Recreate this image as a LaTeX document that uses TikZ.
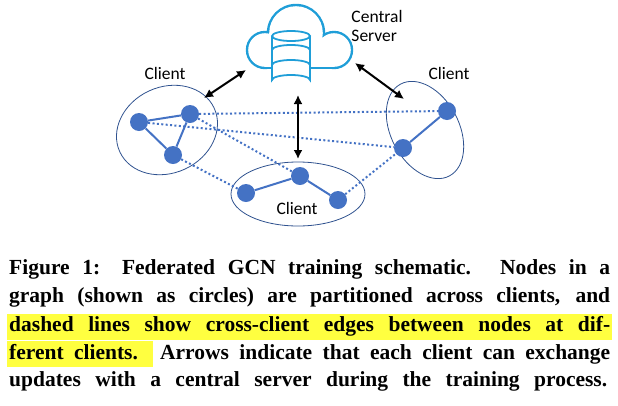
\documentclass[tikz,border=0pt]{standalone}
\usepackage{fontspec}
\setmainfont{Liberation Serif}
\newfontfamily\clientfont{Carlito}
\usetikzlibrary{arrows.meta}
\definecolor{vblue}{HTML}{4472C4}
\definecolor{rimblue}{HTML}{2F528F}
\definecolor{cloudblue}{HTML}{1F9ED8}
\definecolor{marker}{HTML}{FFFF40}
\newcommand{\capline}[1]{\makebox[601pt][s]{#1}}

\begin{document}
\begin{tikzpicture}[x=1pt,y=-1pt,
		vertex/.style={circle,fill=vblue,minimum size=18pt,inner sep=0pt},
		group/.style={draw=rimblue,line width=0.8pt},
		cross/.style={vblue,line width=2pt,dash pattern=on 2pt off 2.4pt},
		link/.style={vblue,line width=2pt},
		sync/.style={{Latex[length=9pt,width=9pt]}-{Latex[length=9pt,width=9pt]},line width=2pt},
		label/.style={font=\clientfont\fontsize{17.5}{19}\selectfont,inner sep=0pt}
	]

	\useasboundingbox (0,0) rectangle (618,405);

	%cloud
	\begin{scope}[cloudblue]
		\fill (265,50) circle (19.2) (296,33) circle (29.2) (334,50) circle (19.2);
		\fill (264,44) rectangle (335,69.2);
		\fill[white] (265,50) circle (16.8) (296,33) circle (26.8) (334,50) circle (16.8);
		\fill[white] (265,44) rectangle (334,66.8);
	\end{scope}
	\node[inner sep=0pt,minimum width=40pt,minimum height=60pt] (server) at (291,58) {};
	\begin{scope}[cloudblue,line width=1.8pt]
		\fill[white] (272,36) rectangle (310,80) (291,80) ellipse (19 and 5);
		\draw (291,36) ellipse (19 and 5);
		\draw (272,36) -- (272,80) arc (180:0:19 and -5) -- (310,36);
		\draw (272,50) arc (180:0:19 and -5);
		\draw (272,65) arc (180:0:19 and -5);
	\end{scope}
	\node[label,align=left] (serverlabel) at (377,26) {Central\\Server};

	%client groups
	\draw[group] (167,130) ellipse [x radius=52,y radius=43,rotate=25];
	\draw[group] (298,194) ellipse [x radius=67,y radius=32];
	\draw[group] (425,130) ellipse [x radius=52,y radius=34,rotate=-62];
	\node[label] (leftlabel) at (165,73) {Client};
	\node[label] (rightlabel) at (449,73) {Client};
	\node[label] (bottomlabel) at (297,208) {Client};

	\node[vertex] (l1) at (139,122) {};
	\node[vertex] (l2) at (190,114) {};
	\node[vertex] (l3) at (173,155) {};
	\node[vertex] (b1) at (246,193) {};
	\node[vertex] (b2) at (300,176) {};
	\node[vertex] (b3) at (338,200) {};
	\node[vertex] (r1) at (447,111) {};
	\node[vertex] (r2) at (403,148) {};

	\draw[link] (l1) -- (l2) -- (l3) -- (l1);
	\draw[link] (b1) -- (b2) -- (b3);
	\draw[link] (r1) -- (r2);

	%cross-client edges
	\draw[cross] (l2) -- (r1);
	\draw[cross] (l1) -- (r2);
	\draw[cross] (l2) -- (b2);
	\draw[cross] (l3) -- (b1);
	\draw[cross] (b3) -- (r2);

	\coordinate (toleft) at (204,98);
	\coordinate (fromleft) at (246,70);
	\coordinate (toright) at (404,99);
	\coordinate (fromright) at (355,63);
	\coordinate (tobottom) at (298,159);
	\coordinate (frombottom) at (298,95);
	\draw[sync] (toleft) -- (fromleft);
	\draw[sync] (fromright) -- (toright);
	\draw[sync] (frombottom) -- (tobottom);

	%caption
	\begin{scope}[every node/.style={anchor=west,inner sep=0pt,font=\bfseries\fontsize{21.5}{25}\selectfont}]
		\node (cap1) at (9,269) {\capline{Figure 1: Federated GCN training schematic. Nodes in a}};
		\node (cap2) at (9,297) {\capline{graph (shown as circles) are partitioned across clients, and}};
		\fill[marker] (7,314) rectangle (612,340);
		\fill[marker] (7,341) rectangle (153,367);
		\node (cap3) at (9,326) {\capline{dashed lines show cross-client edges between nodes at dif-}};
		\node (cap4) at (9,354) {\capline{ferent clients. Arrows indicate that each client can exchange}};
		\node (cap5) at (9,381) {\makebox[598pt][s]{updates with a central server during the training process.}};
	\end{scope}
\end{tikzpicture}
\end{document}
